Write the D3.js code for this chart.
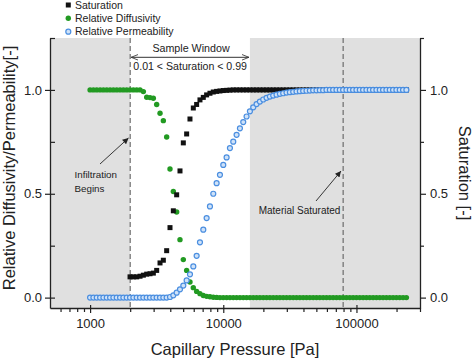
<!DOCTYPE html>
<html><head><meta charset="utf-8">
<script src="https://cdn.jsdelivr.net/npm/d3@7"></script>
<style>
html,body{margin:0;padding:0;background:#fff;}
svg{display:block;font-family:"Liberation Sans",Arial,sans-serif;}
</style></head>
<body>
<svg id="chart" width="474" height="359"></svg>
<script>
// ---- data ----
const pressure = [
 1000,1059,1122,1189,1259,1334,1413,1496,1585,1679,
 1778,1884,1995,2113,2239,2371,2512,2661,2818,2985,
 3162,3350,3548,3758,3981,4217,4467,4732,5012,5309,
 5623,5957,6310,6683,7079,7499,7943,8414,8913,9441,
 10000,10593,11220,11885,12589,13335,14125,14962,15849,16788,
 17783,18836,19953,21135,22387,23714,25119,26607,28184,29854,
 31623,33497,35481,37584,39811,42170,44668,47315,50119,53088,
 56234,59566,63096,66834,70795,74989,79433,84140,89125,94406,
 100000,105925,112202,118850,125893,133352,141254,149624,158489,167880,
 177828,188365,199526,211349,223872,237137];
const saturation = [
 null,null,null,null,null,null,null,null,null,null,
 null,null,0.100,0.100,0.100,0.103,0.108,0.113,0.115,0.118,
 0.131,0.167,0.180,0.226,0.337,0.418,0.495,0.610,0.745,0.788,
 0.860,0.913,0.930,0.952,0.964,0.976,0.984,0.990,0.993,0.995,
 0.997,0.998,0.999,1,1,1,1,1,1,1,
 1,1,1,1,1,1,1,1,1,1,
 1,1,1,1,1,1,1,1,1,1,
 1,1,1,1,1,1,1,1,1,1,
 1,1,1,1,1,1,1,1,1,1,
 1,1,1,1,1,1];
const diffusivity = [
 1,1,1,1,1,1,1,1,1,1,
 1,1,1,1,1,1,0.992,0.965,0.963,0.960,
 0.930,0.888,0.852,0.773,0.619,0.511,0.412,0.279,0.183,0.131,
 0.075,0.048,0.030,0.019,0.010,0.006,0.004,0.002,0.001,0,
 0,0,0,0,0,0,0,0,0,0,
 0,0,0,0,0,0,0,0,0,0,
 0,0,0,0,0,0,0,0,0,0,
 0,0,0,0,0,0,0,0,0,0,
 0,0,0,0,0,0,0,0,0,0,
 0,0,0,0,0,0];
const permeability = [
 0,0,0,0,0,0,0,0,0,0,
 0,0,0,0,0,0,0,0,0,0,
 0,0,0,0,0.003,0.011,0.024,0.040,0.058,0.083,
 0.112,0.150,0.201,0.266,0.327,0.383,0.439,0.500,0.551,0.591,
 0.639,0.675,0.720,0.751,0.784,0.815,0.845,0.872,0.897,0.916,
 0.932,0.944,0.954,0.962,0.968,0.973,0.977,0.981,0.984,0.987,
 0.989,0.991,0.993,0.994,0.995,0.996,0.997,0.998,0.998,0.999,
 0.999,1,1,1,1,1,1,1,1,1,
 1,1,1,1,1,1,1,1,1,1,
 1,1,1,1,1,1];
const seriesNames = ["Saturation","Relative Diffusivity","Relative Permeability"];
const xTicks = [1000,10000,100000];
const xMinorTicks = [600,700,800,900,2000,3000,4000,5000,6000,7000,8000,9000,
  20000,30000,40000,50000,60000,70000,80000,90000,200000,300000];
const yTicks = [0,0.5,1.0];
const yMinorTicks = [0.25,0.75,1.25];
const grayRegions = [[500,2000],[15849,300000]];
const markerLines = [2000,79433];

// ---- layout ----
const svg = d3.select("#chart");
const L=50, R=420, T=38, B=308;
const x = d3.scaleLog().domain([500,300000]).range([L,R]);
const y = d3.scaleLinear().domain([-0.05,1.25]).range([B,T]);
const ink="#222";

// gray regions
svg.selectAll("rect.gray").data(grayRegions).enter().append("rect")
  .attr("x",d=>x(d[0])).attr("y",T).attr("width",d=>x(d[1])-x(d[0])).attr("height",B-T)
  .attr("fill","#e0e0e0");

// dashed lines
svg.selectAll("line.dash").data(markerLines).enter().append("line")
  .attr("x1",d=>x(d)).attr("x2",d=>x(d)).attr("y1",T).attr("y2",B)
  .attr("stroke","#555").attr("stroke-width",1).attr("stroke-dasharray","5,3");

// defs for arrows
const defs = svg.append("defs");
defs.append("marker").attr("id","open").attr("viewBox","0 0 10 10").attr("refX",10).attr("refY",5)
  .attr("markerWidth",7).attr("markerHeight",7).attr("orient","auto-start-reverse")
  .attr("markerUnits","userSpaceOnUse")
  .append("path").attr("d","M0,1 L10,5 L0,9").attr("fill","none").attr("stroke","#333").attr("stroke-width",1.2);
defs.append("marker").attr("id","solid").attr("viewBox","0 0 10 10").attr("refX",10).attr("refY",5)
  .attr("markerWidth",7).attr("markerHeight",6).attr("orient","auto")
  .attr("markerUnits","userSpaceOnUse")
  .append("path").attr("d","M0,0 L10,5 L0,10 Z").attr("fill","#222");

// axes
function styleAxis(g){
  g.selectAll("path.domain").attr("stroke",ink).attr("stroke-width",1.3);
  g.selectAll(".tick line").attr("stroke",ink).attr("stroke-width",1.2);
  g.selectAll(".tick text").attr("fill","#222").attr("font-size","13px")
    .attr("font-family",'"Liberation Sans",Arial,sans-serif');
}
// bottom
svg.append("g").attr("transform",`translate(0,${B})`)
  .call(d3.axisBottom(x).tickValues(xTicks).tickFormat(d3.format("d")).tickSizeInner(5).tickSizeOuter(0).tickPadding(6))
  .call(styleAxis);
svg.append("g").attr("transform",`translate(0,${B})`)
  .call(d3.axisTop(x).tickValues(xTicks).tickFormat("").tickSizeInner(3).tickSizeOuter(0))
  .call(g=>g.select(".domain").remove()).call(styleAxis);
svg.append("g").attr("transform",`translate(0,${B})`)
  .call(d3.axisBottom(x).tickValues(xMinorTicks).tickFormat("").tickSizeInner(4).tickSizeOuter(0))
  .call(g=>g.select(".domain").remove()).call(styleAxis);
// left
svg.append("g").attr("transform",`translate(${L},0)`)
  .call(d3.axisLeft(y).tickValues(yTicks).tickFormat(d3.format(".1f")).tickSizeInner(5).tickSizeOuter(0).tickPadding(3))
  .call(styleAxis);
svg.append("g").attr("transform",`translate(${L},0)`)
  .call(d3.axisRight(y).tickValues(yTicks.concat(yMinorTicks)).tickFormat("").tickSizeInner(5).tickSizeOuter(0))
  .call(g=>g.select(".domain").remove()).call(styleAxis);
// right
svg.append("g").attr("transform",`translate(${R},0)`)
  .call(d3.axisRight(y).tickValues(yTicks).tickFormat(d3.format(".1f")).tickSizeInner(6).tickSizeOuter(0).tickPadding(4))
  .call(styleAxis);
svg.append("g").attr("transform",`translate(${R},0)`)
  .call(d3.axisRight(y).tickValues(yMinorTicks).tickFormat("").tickSizeInner(4).tickSizeOuter(0))
  .call(g=>g.select(".domain").remove()).call(styleAxis);

// data points
const green="#229a22", blueS="#4a8ee0", blueF="#cfe2f8";
const idx = d3.range(pressure.length);
svg.append("g").selectAll("circle").data(idx.filter(i=>diffusivity[i]!=null)).enter().append("circle")
  .attr("cx",i=>x(pressure[i])).attr("cy",i=>y(diffusivity[i])).attr("r",2.7).attr("fill",green);
const sq=5;
svg.append("g").selectAll("rect").data(idx.filter(i=>saturation[i]!=null)).enter().append("rect")
  .attr("x",i=>x(pressure[i])-sq/2).attr("y",i=>y(saturation[i])-sq/2).attr("width",sq).attr("height",sq).attr("fill","#111");
svg.append("g").selectAll("circle").data(idx.filter(i=>permeability[i]!=null)).enter().append("circle")
  .attr("cx",i=>x(pressure[i])).attr("cy",i=>y(permeability[i])).attr("r",2.5)
  .attr("fill",blueF).attr("stroke",blueS).attr("stroke-width",1.2);

// axis titles
svg.append("text").attr("x",(L+R)/2).attr("y",355).attr("text-anchor","middle")
  .attr("font-size","16.5px").attr("fill","#222").text("Capillary Pressure [Pa]");
svg.append("text").attr("transform","translate(15,168) rotate(-90)").attr("text-anchor","middle")
  .attr("font-size","16.5px").attr("fill","#222").text("Relative Diffusivity/Permeability[-]");
svg.append("text").attr("transform","translate(459,173) rotate(90)").attr("text-anchor","middle")
  .attr("font-size","16.5px").attr("fill","#222").text("Saturation [-]");

// legend
const leg = svg.append("g");
const rows=[5,18.3,31.7];
leg.append("rect").attr("x",68.3-2.5).attr("y",rows[0]-2.5).attr("width",5).attr("height",5).attr("fill","#111");
leg.append("circle").attr("cx",68.3).attr("cy",rows[1]).attr("r",2.7).attr("fill",green);
leg.append("circle").attr("cx",68.3).attr("cy",rows[2]).attr("r",2.5).attr("fill",blueF).attr("stroke",blueS).attr("stroke-width",1.2);
seriesNames.forEach((n,i)=>{
  leg.append("text").attr("x",75).attr("y",rows[i]).attr("dy","0.35em")
    .attr("font-size","10.5px").attr("fill","#222").text(n);
});

// annotations
svg.append("text").attr("x",191).attr("y",48.3).attr("dy","0.35em").attr("text-anchor","middle")
  .attr("font-size","10.7px").attr("fill","#222").text("Sample Window");
svg.append("line").attr("x1",x(2000)+1).attr("x2",x(15849)-1).attr("y1",57.3).attr("y2",57.3)
  .attr("stroke","#333").attr("stroke-width",1)
  .attr("marker-start","url(#open)").attr("marker-end","url(#open)");
svg.append("text").attr("x",133.3).attr("y",66.7).attr("dy","0.35em")
  .attr("font-size","10.6px").attr("fill","#222").text("0.01 < Saturation < 0.99");

svg.append("text").attr("x",74.5).attr("y",175).attr("dy","0.35em")
  .attr("font-size","9.8px").attr("fill","#222").text("Infiltration");
svg.append("text").attr("x",74.5).attr("y",189).attr("dy","0.35em")
  .attr("font-size","9.8px").attr("fill","#222").text("Begins");
svg.append("line").attr("x1",100).attr("y1",164).attr("x2",128.5).attr("y2",138)
  .attr("stroke","#222").attr("stroke-width",0.9).attr("marker-end","url(#solid)");

svg.append("text").attr("x",258.7).attr("y",210).attr("dy","0.35em")
  .attr("font-size","10px").attr("fill","#222").text("Material Saturated");
svg.append("line").attr("x1",316).attr("y1",201).attr("x2",341).attr("y2",171)
  .attr("stroke","#222").attr("stroke-width",0.9).attr("marker-end","url(#solid)");
</script>
</body></html>
